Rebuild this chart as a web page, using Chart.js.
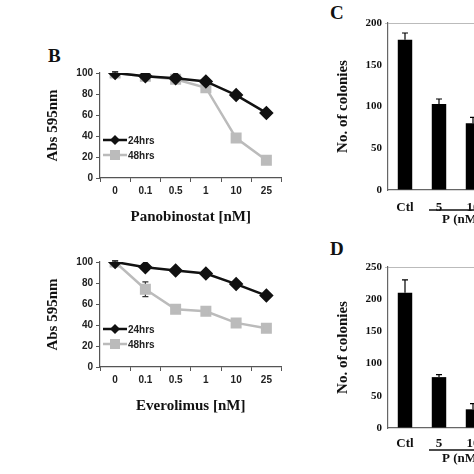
<!DOCTYPE html>
<html><head><meta charset="utf-8">
<script src="https://cdn.jsdelivr.net/npm/chart.js@4"></script>
<style>
html,body{margin:0;padding:0;width:474px;height:474px;overflow:hidden;background:#fff;position:relative}
canvas{position:absolute}
.lbl{position:absolute;font:bold 19px "Liberation Serif";color:#111}
</style></head><body>
<div class="lbl" style="left:48px;top:45px">B</div>
<div class="lbl" style="left:330px;top:2px">C</div>
<div class="lbl" style="left:330px;top:238px">D</div>
<canvas id="b1" width="250" height="170" style="left:40px;top:60px"></canvas>
<canvas id="b2" width="250" height="170" style="left:40px;top:249px"></canvas>
<canvas id="c" width="160" height="225" style="left:330px;top:10px"></canvas>
<canvas id="d" width="160" height="219" style="left:330px;top:254px"></canvas>
<script>
const doses=["0","0.1","0.5","1","10","25"];
const pano24=[100,97,95,92,79,62], pano24err=[1,1,1,2,3,2];
const pano48=[100,97,94,86,38,17], pano48err=[1,1,1,2,1,1];
const evero24=[100,95,92,89,79,68], evero24err=[1,1,1,1,1,1];
const evero48=[100,74,55,53,42,37], evero48err=[1,7,1,1,1,1];
const colCats=["Ctl","5","10"];
const colC=[180,103,80], colCerr=[8,6,7];
const colD=[210,79,29], colDerr=[20,4,9];

const sans='"Liberation Sans"', serif='"Liberation Serif"';
function drawErr(ch){
  const ctx=ch.ctx;ctx.save();
  ch.data.datasets.forEach((ds,i)=>{
    if(!ds.err)return;const m=ch.getDatasetMeta(i);
    m.data.forEach((el,j)=>{const y=ch.scales.y;const v=ds.data[j],e=ds.err[j];
      const x=el.x;ctx.strokeStyle=ds.errColor||'#000';ctx.lineWidth=1.2;ctx.beginPath();
      const top=y.getPixelForValue(v+e),bot=ds.topOnly?y.getPixelForValue(v):y.getPixelForValue(v-e);
      ctx.moveTo(x,top);ctx.lineTo(x,bot);ctx.moveTo(x-3,top);ctx.lineTo(x+3,top);
      if(!ds.topOnly){ctx.moveTo(x-3,bot);ctx.lineTo(x+3,bot);}
      ctx.stroke();});
  });ctx.restore();}
const errPlugin={id:'err',afterDatasetsDraw:drawErr};
const errPluginBehind={id:'errb',beforeDatasetsDraw:drawErr};
const legPlugin={id:'leg',afterDraw(ch){
  const ctx=ch.ctx,ca=ch.chartArea;ctx.save();
  ch.data.datasets.forEach((ds,i)=>{
    const y=ca.bottom-38+i*15,x=ca.left+3;
    ctx.strokeStyle=ds.borderColor;ctx.lineWidth=2.5;ctx.beginPath();ctx.moveTo(x,y);ctx.lineTo(x+24,y);ctx.stroke();
    ctx.fillStyle=ds.backgroundColor;ctx.beginPath();
    if(ds.pointStyle==='rect'){ctx.fillRect(x+7,y-5,10,10);}else{ctx.moveTo(x+12,y-5);ctx.lineTo(x+17,y);ctx.lineTo(x+12,y+5);ctx.lineTo(x+7,y);ctx.fill();}
    ctx.fillStyle='#222';ctx.font='bold 10px '+sans;ctx.textBaseline='middle';ctx.fillText(ds.label,x+25,y+1);
  });ctx.restore();}};

function lineChart(id,d24,e24,d48,e48,title){
  new Chart(document.getElementById(id),{type:'line',
    data:{labels:doses,datasets:[
      {label:'24hrs',data:d24,err:e24,borderColor:'#111',backgroundColor:'#111',borderWidth:2.5,pointStyle:'rectRot',pointRadius:5.5,order:1},
      {label:'48hrs',data:d48,err:e48,errColor:'#333',borderColor:'#bbb',backgroundColor:'#bbb',borderWidth:2.5,pointStyle:'rect',pointRadius:6,order:2}]},
    options:{responsive:false,animation:false,layout:{padding:{top:13,right:7}},
      plugins:{legend:{display:false},tooltip:{enabled:false}},
      scales:{
        x:{offset:true,grid:{offset:true,drawOnChartArea:false,tickLength:4,color:'#555'},border:{color:'#555',width:1.2},
          ticks:{font:{family:sans,size:10,weight:'bold'},color:'#222'},
          title:{display:true,text:title,font:{family:serif,size:15,weight:'bold'},color:'#111',padding:{top:13}},
          afterFit(s){s.height=52;}},
        y:{min:0,max:100,ticks:{stepSize:20,font:{family:sans,size:10,weight:'bold'},color:'#222'},
          grid:{drawOnChartArea:false,tickLength:4,color:'#555'},border:{color:'#555',width:1.2},
          title:{display:true,text:'Abs 595nm',font:{family:serif,size:15,weight:'bold'},color:'#111',padding:{bottom:4}},
          afterFit(s){s.width=60;}}}},
    plugins:[errPluginBehind,legPlugin]});
}
lineChart('b1',pano24,pano24err,pano48,pano48err,'Panobinostat [nM]');
lineChart('b2',evero24,evero24err,evero48,evero48err,'Everolimus [nM]');

function barChart(id,vals,errs,max,tickGap,lineGap,pGap){
  const pPlugin={id:'p',afterDraw(ch){const ctx=ch.ctx,x=ch.scales.x,ca=ch.chartArea;ctx.save();
    const ly=ca.bottom+lineGap;ctx.strokeStyle='#111';ctx.lineWidth=1.3;ctx.beginPath();
    ctx.moveTo(x.getPixelForValue(1)-10,ly);ctx.lineTo(ch.width,ly);ctx.stroke();
    ctx.fillStyle='#111';ctx.font='bold 13px '+serif;ctx.textAlign='left';ctx.textBaseline='middle';
    ctx.fillText('P (nM)',x.getPixelForValue(1)+3,ly+pGap);ctx.restore();}};
  new Chart(document.getElementById(id),{type:'bar',
    data:{labels:colCats,datasets:[{data:vals,err:errs,topOnly:true,backgroundColor:'#000',barPercentage:0.85,categoryPercentage:0.5}]},
    options:{responsive:false,animation:false,layout:{padding:{top:13,right:0}},
      plugins:{legend:{display:false},tooltip:{enabled:false}},
      scales:{
        x:{grid:{display:false},border:{color:'#666',width:1.2},
          ticks:{padding:tickGap,font:{family:serif,size:13,weight:'bold'},color:'#111'},
          afterFit(s){s.height=45;}},
        y:{min:0,max:max,ticks:{stepSize:50,font:{family:serif,size:11,weight:'bold'},color:'#111'},
          grid:{drawOnChartArea:true,tickLength:3,color:c=>c.tick&&c.tick.value===max?'#bbb':'rgba(0,0,0,0)'},border:{color:'#666',width:1.2},
          title:{display:true,text:'No. of colonies',font:{family:serif,size:15,weight:'bold'},color:'#111',padding:{bottom:2}},
          afterFit(s){s.width=58;}}}},
    plugins:[errPlugin,pPlugin]});
}
barChart('c',colC,colCerr,200,2,20,10);
barChart('d',colD,colDerr,250,0,22,9);
</script></body></html>
